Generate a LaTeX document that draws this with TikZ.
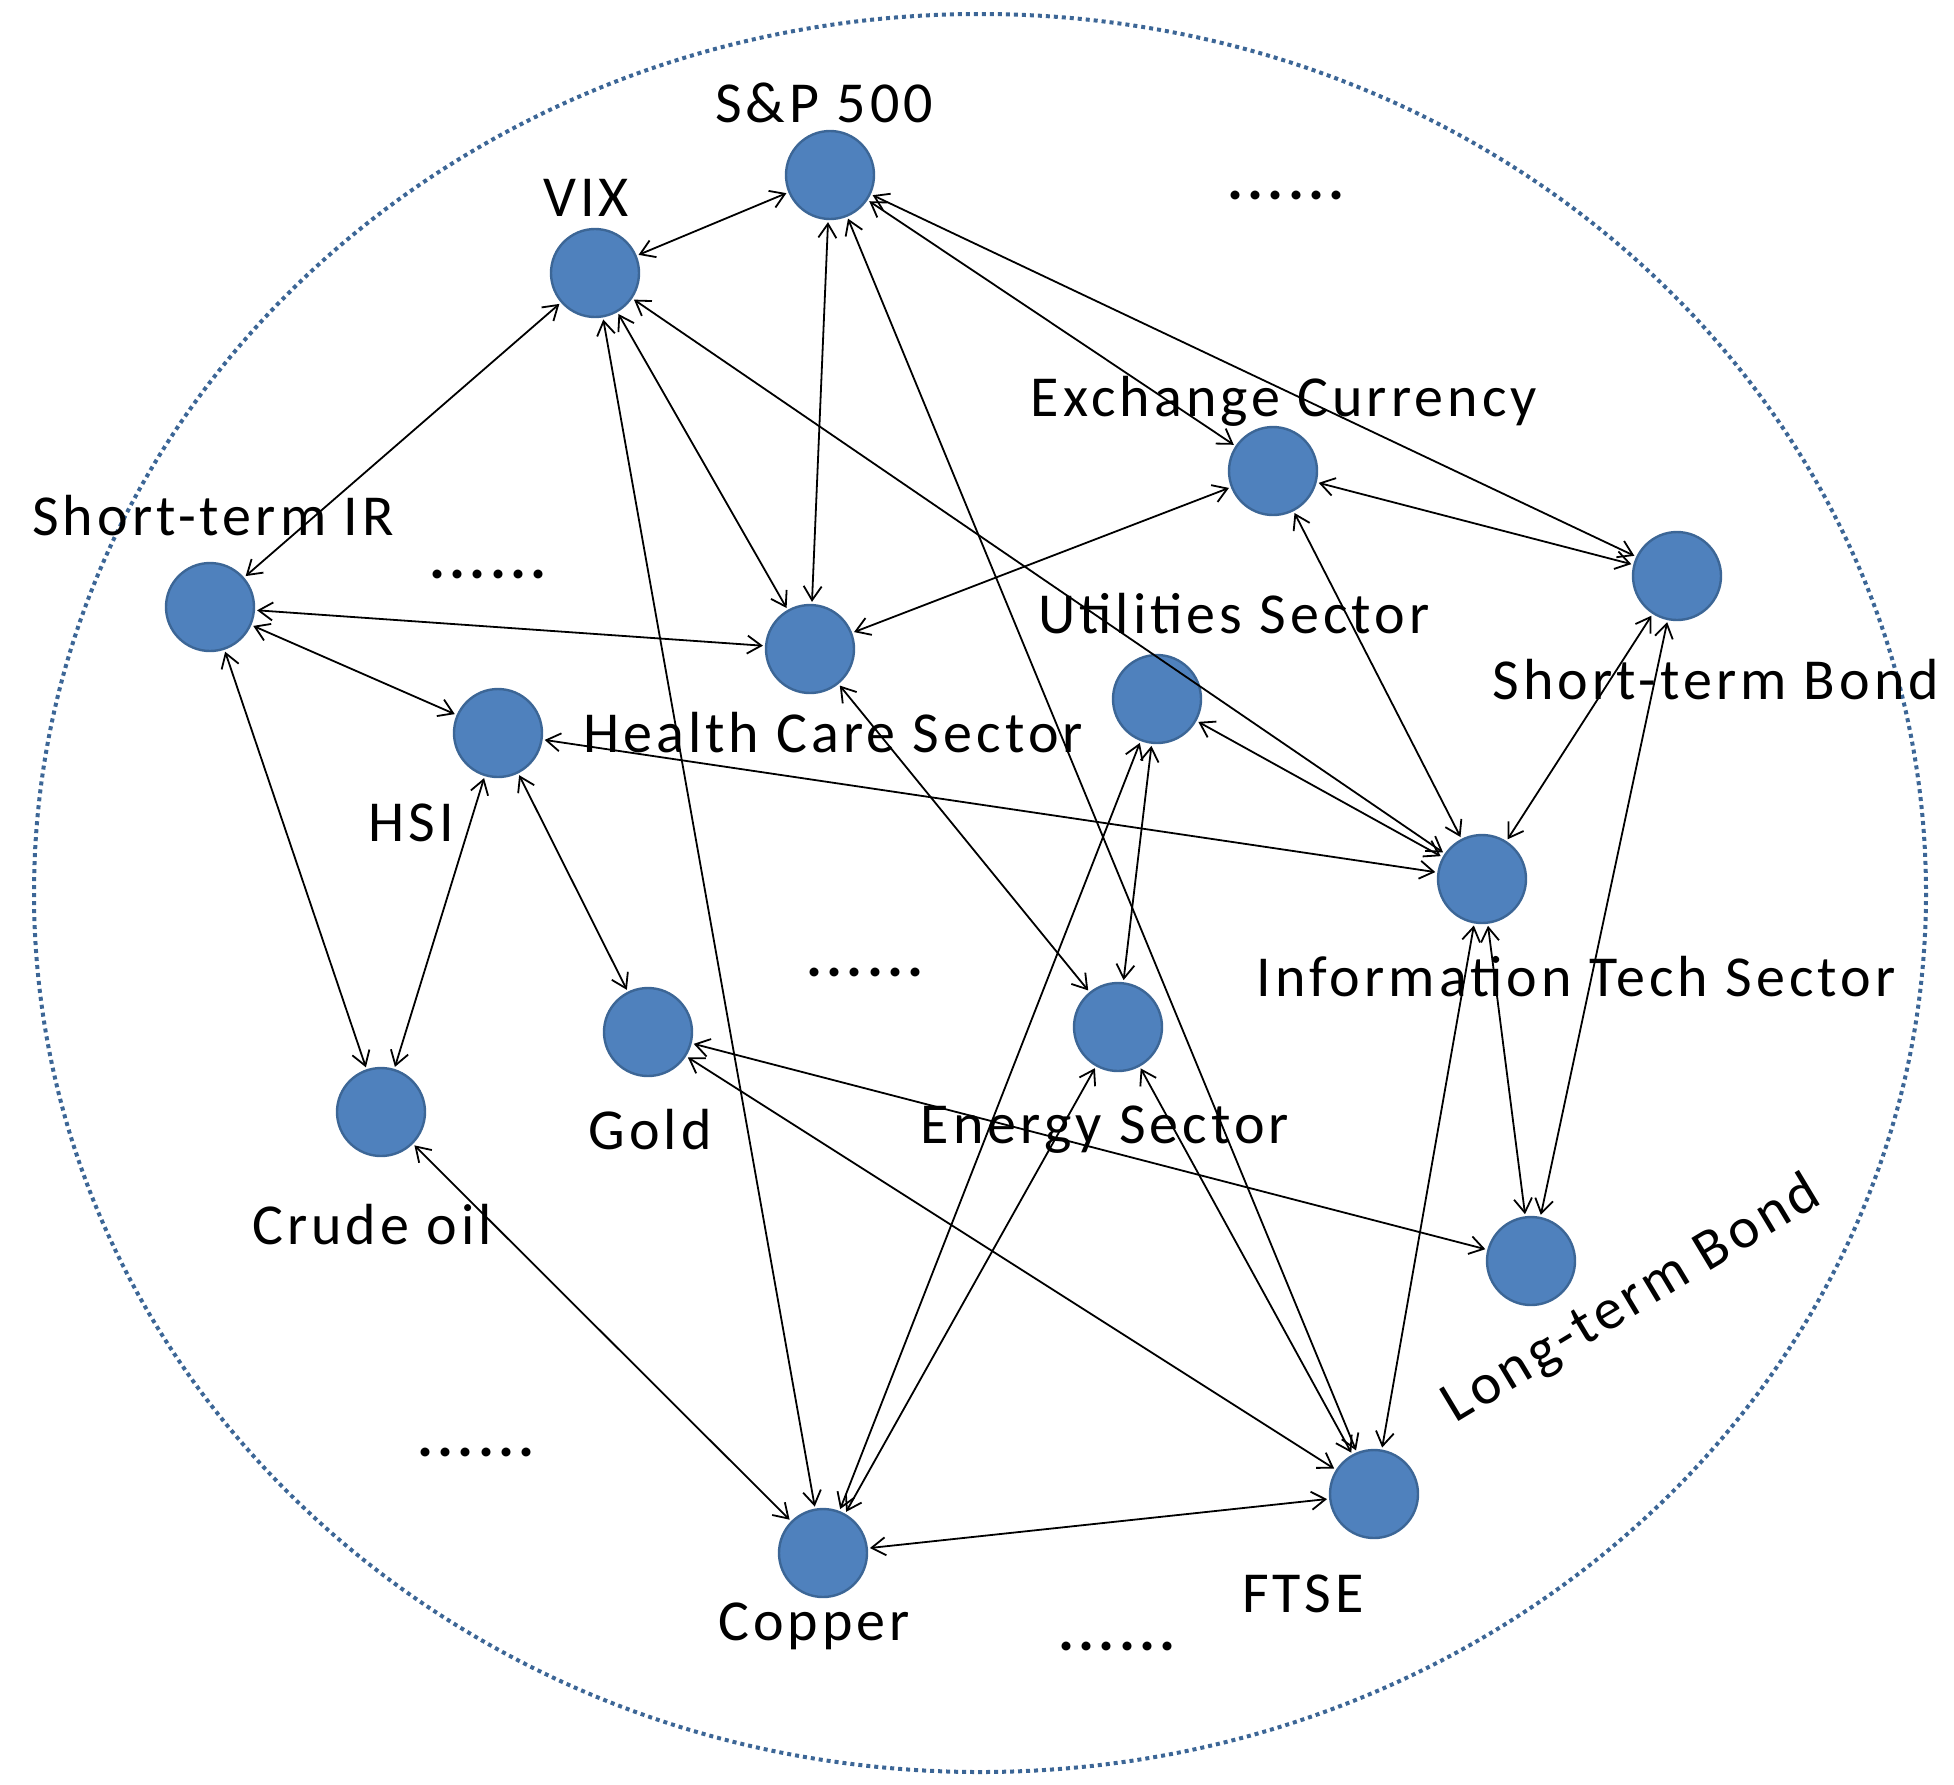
\documentclass[tikz,border=0pt]{standalone}
\usepackage{fontspec}
\setmainfont{Carlito}[LetterSpace=7]
\usetikzlibrary{arrows.meta}
\definecolor{nb}{HTML}{4F81BD}
\definecolor{nbd}{HTML}{3C6696}
\begin{document}
\begin{tikzpicture}[x=0.5pt,y=-0.5pt,
  v/.style={circle,fill=nb,draw=nbd,line width=1.2pt,minimum size=44pt,inner sep=0pt},
  lab/.style={font=\fontsize{29}{32}\selectfont},
  e/.style={{Straight Barb[length=7pt,width=9pt]}-{Straight Barb[length=7pt,width=9pt]},line width=0.9pt,shorten <=1pt,shorten >=1pt},
  dots/.style={font=\fontsize{30}{30}\selectfont\bfseries}]
\useasboundingbox (0,0) rectangle (1954,1784);
\draw[nbd,dotted,line width=2pt] (980,893) ellipse [x radius=946, y radius=879];
\node[v] (sp) at (830,175) {};
\node[v] (vix) at (595,273) {};
\node[v] (sir) at (210,607) {};
\node[v] (hc) at (810,649) {};
\node[v] (hsi) at (498,733) {};
\node[v] (ex) at (1273,471) {};
\node[v] (sb) at (1677,576) {};
\node[v] (ut) at (1157,699) {};
\node[v] (it) at (1482,879) {};
\node[v] (en) at (1118,1027) {};
\node[v] (gold) at (648,1032) {};
\node[v] (oil) at (381,1112) {};
\node[v] (lb) at (1531,1261) {};
\node[v] (ftse) at (1374,1494) {};
\node[v] (cu) at (823,1553) {};
\node[lab] (lsp) at (824,103) {S\&P 500};
\node[lab] (lvix) at (586,198) {VIX};
\node[lab] (lsir) at (213,516) {Short-term IR};
\node[lab] (lhc) at (833,733) {Health Care Sector};
\node[lab] (lhsi) at (411,823) {HSI};
\node[lab] (lex) at (1284,401) {Exchange Currency};
\node[lab] (lsb) at (1716,680) {Short-term Bond};
\node[lab] (lut) at (1234,614) {Utilities Sector};
\node[lab] (lit) at (1576,977) {Information Tech Sector};
\node[lab] (len) at (1105,1130) {Energy Sector};
\node[lab] (lgold) at (650,1130) {Gold};
\node[lab] (loil) at (372,1225) {Crude oil};
\node[lab,rotate=31] (llb) at (1632,1300) {Long-term Bond};
\node[lab] (lftse) at (1303,1594) {FTSE};
\node[lab] (lcu) at (814,1626) {Copper};
\node[dots] (d1) at (1286,195) {......};
\node[dots] (d2) at (488,574) {......};
\node[dots] (d3) at (865,972) {......};
\node[dots] (d4) at (476,1452) {......};
\node[dots] (d5) at (1117,1646) {......};
\draw[e] (vix) -- (sp);
\draw[e] (sp) -- (hc);
\draw[e] (sp) -- (sb);
\draw[e] (sp) -- (ex);
\draw[e] (sp) -- (ftse);
\draw[e] (vix) -- (sir);
\draw[e] (vix) -- (hc);
\draw[e] (vix) -- (cu);
\draw[e] (vix) -- (it);
\draw[e] (sir) -- (hc);
\draw[e] (sir) -- (hsi);
\draw[e] (sir) -- (oil);
\draw[e] (hsi) -- (oil);
\draw[e] (hsi) -- (gold);
\draw[e] (hsi) -- (it);
\draw[e] (hc) -- (ex);
\draw[e] (hc) -- (en);
\draw[e] (ut) -- (it);
\draw[e] (ut) -- (en);
\draw[e] (ut) -- (cu);
\draw[e] (ex) -- (sb);
\draw[e] (ex) -- (it);
\draw[e] (sb) -- (it);
\draw[e] (sb) -- (lb);
\draw[e] (it) -- (lb);
\draw[e] (it) -- (ftse);
\draw[e] (gold) -- (lb);
\draw[e] (gold) -- (ftse);
\draw[e] (en) -- (cu);
\draw[e] (en) -- (ftse);
\draw[e] (cu) -- (ftse);
\draw[e] (oil) -- (cu);
\end{tikzpicture}
\end{document}
